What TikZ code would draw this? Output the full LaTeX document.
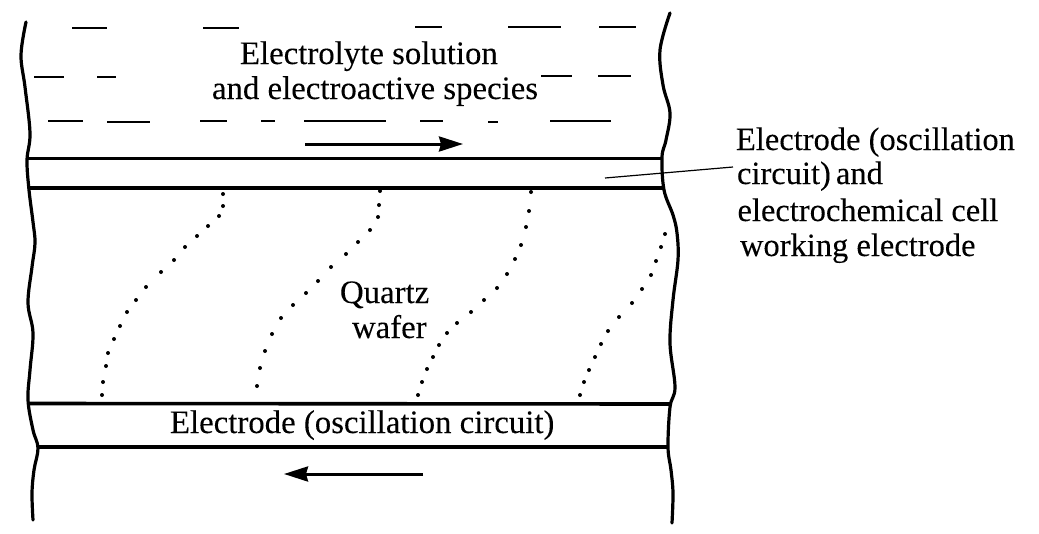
\documentclass[tikz,border=0pt]{standalone}
\usepackage{fontspec}
\setmainfont[FakeBold=0.12]{Liberation Serif}
\usetikzlibrary{arrows.meta}
\tikzset{
  label text/.style={inner sep=0pt,outer sep=0pt,font=\fontsize{32.8}{36}\selectfont,anchor=base west},
  side text/.style={label text,font=\fontsize{32.5}{36}\selectfont},
  edge line/.style={line width=3.2pt,line cap=round,line join=round},
  layer line/.style={line width=3.6pt},
  dash line/.style={line width=1.3pt},
  leader line/.style={line width=1.2pt},
  flow arrow/.style={line width=3pt,-{Stealth[length=24pt,width=15pt,inset=2pt]}},
  dotty/.style={fill=black,draw=none}
}
\begin{document}
\begin{tikzpicture}[x=1pt,y=-1pt]
\useasboundingbox (0,0) rectangle (1039,533);
% side boundaries
\draw[edge line] plot[smooth,tension=0.6] coordinates {(26,22) (21,55) (25,87) (30,133) (27,160) (29,190) (33,222) (35,243) (32,267) (28,303) (33,333) (30,370) (28,400) (33,430) (38,448) (34,470) (32,493) (33,520)};
\draw[edge line] plot[smooth,tension=0.6] coordinates {(670,13) (660,50) (663,85) (670,113) (666,140) (662,157) (664,190) (673,215) (677,233) (678,260) (673,300) (670,343) (675,387) (670,407) (668,447) (671,470) (673,493) (672,523)};
% layer boundaries
\coordinate (t1l) at (28,158.5); \coordinate (t1r) at (663,158.5);
\coordinate (t2l) at (29,188);   \coordinate (t2r) at (665,188);
\coordinate (b1l) at (29,403.5); \coordinate (b1r) at (671,404);
\coordinate (b2l) at (38,447);   \coordinate (b2r) at (669,447);
\draw[layer line] (t1l) -- (t1r);
\draw[layer line] (t2l) -- (t2r);
\draw[layer line] (b1l) -- (b1r);
\draw[layer line] (b2l) -- (b2r);
% electrolyte dashes
\foreach \a/\b/\y in {72/107/28,203/239/28,415/442/27,508/561/27,599/636/27,
  34/64/77,97/116/77,541/572/76,598/631/76,
  48/83/121,107/150/122,200/227/121,261/275/121,304/386/121,420/443/121,488/498/122,550/611/121}
  \draw[dash line] (\a,\y) -- (\b,\y);
% dots
\foreach \x/\y in {223/194,223/206,219/216,208/226,197/236,185/247,174/260,161/272,146/287,136/300,127/312,120/326,114/339,108/353,106/366,103/382,102/395,
  380/191,379/205,378/217,370/230,358/242,346/254,331/267,318/281,306/293,293/305,281/318,272/334,265/351,260/368,257/386,
  531/192,529/211,526/227,521/245,515/259,507/274,497/288,484/300,471/312,457/323,447/333,439/345,433/357,427/369,422/382,418/395,
  665/234,661/247,656/261,651/275,642/289,632/303,619/317,608/331,601/344,595/357,589/370,584/382,580/395}
  \fill[dotty] (\x,\y) circle[radius=2pt];
% flow arrows
\coordinate (fa1) at (305,144); \coordinate (fa2) at (463,144);
\coordinate (fb1) at (423,474); \coordinate (fb2) at (284,474);
\draw[flow arrow] (fa1) -- (fa2);
\draw[flow arrow] (fb1) -- (fb2);
% texts
\node[label text] (el1) at (240,64) {Electrolyte solution};
\node[label text] (el2) at (212,99) {and electroactive species};
\node[label text] (q1) at (340,303) {Quartz};
\node[label text] (q2) at (352,338) {wafer};
\node[label text] (eb) at (170,433) {Electrode (oscillation circuit)};
\node[side text] (r1) at (736,150) {Electrode (oscillation};
\node[side text] (r2) at (737,184) {circuit)\hspace{-3pt} and};
\node[side text] (r3) at (737.5,221) {electrochemical cell};
\node[side text] (r4) at (740,256) {working electrode};
% leader
\coordinate (lead) at (605,178);
\coordinate (leadend) at (733,167);
\draw[leader line] (lead) -- (leadend);
\end{tikzpicture}
\end{document}
